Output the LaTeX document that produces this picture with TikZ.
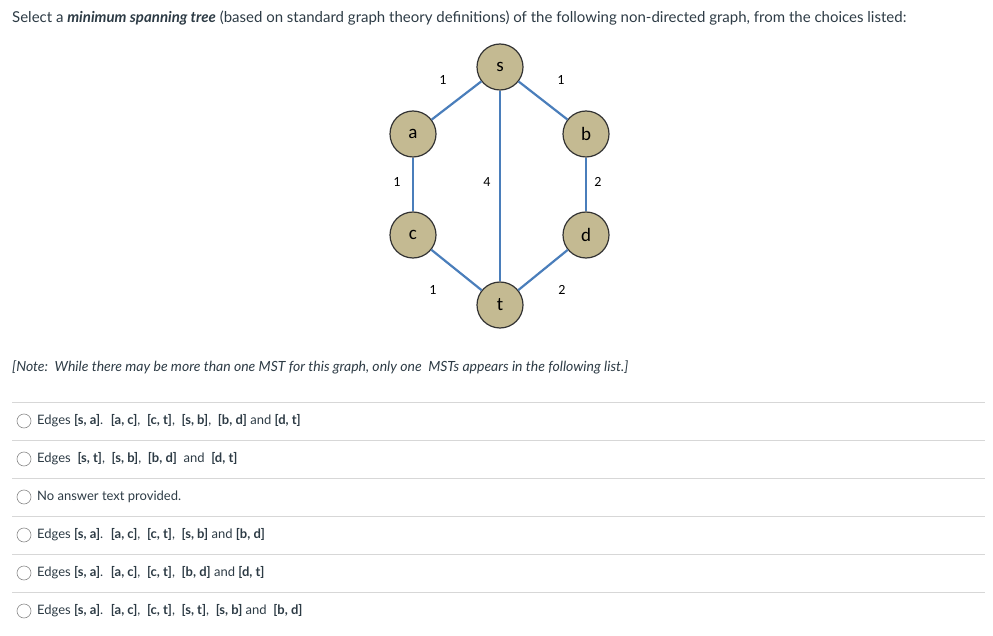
\documentclass[tikz,border=0pt]{standalone}
\usepackage{fontspec}
\setmainfont{Lato}
\newfontfamily\calib{Carlito}
\definecolor{vfill}{RGB}{196,186,146}
\definecolor{eblue}{RGB}{74,126,187}
\definecolor{rule}{RGB}{215,215,215}
\definecolor{txt}{RGB}{45,59,69}
\newcommand{\bb}[1]{\textbf{#1}}
\begin{document}
\begin{tikzpicture}[x=1pt,y=-1pt,
  vert/.style={circle,draw=black!80,line width=1.2pt,fill=vfill,minimum size=46pt,inner sep=0pt,font=\calib\fontsize{19}{19}\selectfont},
  edge/.style={eblue,line width=2.2pt},
  wt/.style={font=\calib\fontsize{14}{14}\selectfont},
  opt/.style={anchor=west,font=\fontsize{13}{15}\selectfont,text=txt,inner sep=0pt},
  radio/.style={circle,draw=black!45,line width=0.6pt,minimum size=14pt,inner sep=0pt},
  sep/.style={rule,line width=0.8pt}]
\useasboundingbox (0,0) rectangle (993,636);
\node[anchor=west,inner sep=0pt,font=\fontsize{15}{17}\selectfont,text=txt] (title) at (12,18) {Select a \textbf{\textit{minimum spanning tree}} (based on standard graph theory definitions) of the following non-directed graph, from the choices listed:};
\node[vert] (s) at (500,67) {s};
\node[vert] (a) at (413,134) {a};
\node[vert] (b) at (586,134) {b};
\node[vert] (c) at (413,235) {c};
\node[vert] (d) at (586,235) {d};
\node[vert] (t) at (500,305) {t};
\begin{scope}[on background layer/.style={}]
\end{scope}
\draw[edge] (s) -- (a);
\draw[edge] (s) -- (b);
\draw[edge] (s) -- (t);
\draw[edge] (a) -- (c);
\draw[edge] (b) -- (d);
\draw[edge] (c) -- (t);
\draw[edge] (d) -- (t);
\node[wt] (w1) at (443,80) {1};
\node[wt] (w2) at (561,80) {1};
\node[wt] (w3) at (397,182) {1};
\node[wt] (w4) at (487,182) {4};
\node[wt] (w5) at (598,182) {2};
\node[wt] (w6) at (433,290) {1};
\node[wt] (w7) at (562,290) {2};
\node[anchor=west,inner sep=0pt,font=\fontsize{14}{16}\selectfont\itshape,text=txt] (note) at (12,367) {[Note:\ \ While there may be more than one MST for this graph, only one\ \ MSTs appears in the following list.]};
\foreach \y in {402,440,478,516,554,592} \draw[sep] (12,\y) -- (985,\y);
\foreach \y/\n in {421/r1,459/r2,497/r3,535/r4,573/r5,611/r6} \node[radio] (\n) at (24,\y) {};
\node[opt] (o1) at (37,421) {Edges \bb{[s, a]}. \ \bb{[a, c]}, \ \bb{[c, t]}, \ \bb{[s, b]}, \ \bb{[b, d]} and \bb{[d, t]}};
\node[opt] (o2) at (37,459) {Edges \ \bb{[s, t]}, \ \bb{[s, b]}, \ \bb{[b, d]} \ and \ \bb{[d, t]}};
\node[opt] (o3) at (37,497) {No answer text provided.};
\node[opt] (o4) at (37,535) {Edges \bb{[s, a]}. \ \bb{[a, c]}, \ \bb{[c, t]}, \ \bb{[s, b]} and \bb{[b, d]}};
\node[opt] (o5) at (37,573) {Edges \bb{[s, a]}. \ \bb{[a, c]}, \ \bb{[c, t]}, \ \bb{[b, d]} and \bb{[d, t]}};
\node[opt] (o6) at (37,611) {Edges \bb{[s, a]}. \ \bb{[a, c]}, \ \bb{[c, t]}, \ \bb{[s, t]}, \ \bb{[s, b]} and \ \bb{[b, d]}};
\end{tikzpicture}
\end{document}
